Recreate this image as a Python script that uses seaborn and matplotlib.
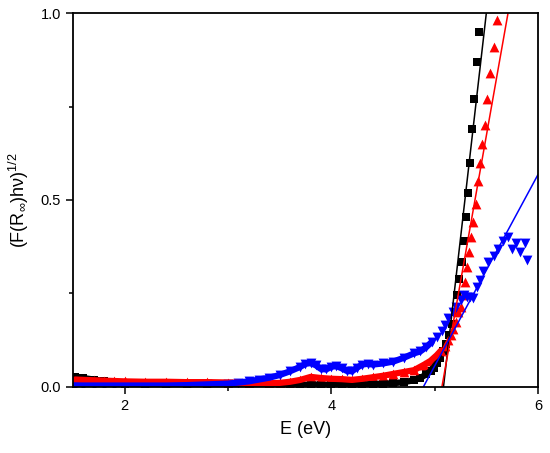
import matplotlib
matplotlib.use("Agg")
import matplotlib.pyplot as plt
import seaborn as sns
import pandas as pd

# Kubelka-Munk plot, three samples (black squares, red up triangles, blue down triangles)
e_black = [1.52, 1.6, 1.7, 1.8, 1.9, 2.0, 2.2, 2.4, 2.6, 2.8, 3.0, 3.2, 3.4, 3.6, 3.7,
           3.8, 3.9, 4.0, 4.1, 4.2, 4.3, 4.4, 4.5, 4.6, 4.7, 4.8, 4.86, 4.92, 4.96, 4.99,
           5.02, 5.05, 5.08, 5.11, 5.14, 5.17, 5.20, 5.22, 5.24, 5.26, 5.28, 5.30, 5.32,
           5.34, 5.36, 5.38, 5.41, 5.43]
y_black = [0.027, 0.024, 0.020, 0.016, 0.012, 0.009, 0.005, 0.003, 0.002, 0.002, 0.002,
           0.002, 0.002, 0.003, 0.005, 0.007, 0.006, 0.006, 0.007, 0.006, 0.007, 0.008,
           0.009, 0.010, 0.013, 0.018, 0.024, 0.034, 0.043, 0.052, 0.064, 0.078, 0.095,
           0.115, 0.14, 0.168, 0.20, 0.245, 0.29, 0.335, 0.39, 0.455, 0.52, 0.60, 0.69,
           0.77, 0.87, 0.95]

e_red = [1.52, 1.6, 1.7, 1.8, 1.9, 2.0, 2.2, 2.4, 2.6, 2.8, 3.0, 3.2, 3.4, 3.5, 3.6, 3.7,
         3.8, 3.9, 4.0, 4.1, 4.2, 4.3, 4.4, 4.5, 4.6, 4.7, 4.8, 4.9, 4.96, 5.02, 5.06,
         5.10, 5.13, 5.16, 5.18, 5.21, 5.23, 5.25, 5.27, 5.29, 5.31, 5.33, 5.35, 5.37,
         5.40, 5.42, 5.44, 5.46, 5.49, 5.51, 5.54, 5.57, 5.60]
y_red = [0.020, 0.019, 0.018, 0.017, 0.016, 0.015, 0.014, 0.014, 0.013, 0.013, 0.012,
         0.011, 0.010, 0.011, 0.014, 0.019, 0.027, 0.024, 0.022, 0.021, 0.019, 0.022,
         0.026, 0.030, 0.035, 0.040, 0.045, 0.060, 0.070, 0.085, 0.097, 0.11, 0.125,
         0.14, 0.155, 0.175, 0.20, 0.215, 0.245, 0.28, 0.32, 0.36, 0.40, 0.44, 0.49,
         0.55, 0.60, 0.65, 0.70, 0.77, 0.84, 0.91, 0.98]

e_blue = [1.52, 1.6, 1.7, 1.8, 1.9, 2.0, 2.2, 2.4, 2.6, 2.8, 3.0, 3.1, 3.2, 3.3, 3.4, 3.5,
          3.6, 3.7, 3.75, 3.8, 3.85, 3.9, 3.95, 4.0, 4.05, 4.1, 4.15, 4.2, 4.25, 4.3,
          4.35, 4.4, 4.5, 4.6, 4.7, 4.8, 4.86, 4.92, 4.97, 5.02, 5.07, 5.10, 5.13, 5.18,
          5.21, 5.25, 5.28, 5.31, 5.34, 5.37, 5.41, 5.44, 5.47, 5.52, 5.57, 5.61, 5.66,
          5.71, 5.75, 5.79, 5.83, 5.87, 5.89]
y_blue = [0.004, 0.004, 0.004, 0.004, 0.004, 0.004, 0.004, 0.004, 0.005, 0.007, 0.009,
          0.012, 0.015, 0.020, 0.025, 0.032, 0.042, 0.054, 0.062, 0.064, 0.058, 0.048,
          0.047, 0.054, 0.056, 0.050, 0.043, 0.042, 0.052, 0.060, 0.062, 0.060, 0.063,
          0.068, 0.078, 0.090, 0.095, 0.107, 0.12, 0.133, 0.15, 0.166, 0.184, 0.20,
          0.214, 0.232, 0.246, 0.24, 0.24, 0.237, 0.268, 0.286, 0.31, 0.335, 0.35, 0.37,
          0.39, 0.40, 0.37, 0.385, 0.36, 0.385, 0.34]

# linear fits (band edge extrapolation), endpoints in data units
fit_black_e = [5.085, 5.50]
fit_black_y = [0.0, 1.0]
fit_red_e = [5.07, 5.71]
fit_red_y = [0.0, 1.0]
fit_blue_e = [4.89, 6.0]
fit_blue_y = [0.0, 0.568]

sns.set_style("ticks", {"axes.edgecolor": "black", "xtick.color": "black",
                        "ytick.color": "black", "text.color": "black",
                        "axes.labelcolor": "black"})
plt.rcParams["font.family"] = ["Liberation Sans", "DejaVu Sans"]
plt.rcParams["mathtext.fontset"] = "custom"
plt.rcParams["mathtext.rm"] = "Liberation Sans"
plt.rcParams["mathtext.it"] = "Liberation Sans"

fig = plt.figure(figsize=(5.5, 4.53), dpi=100)
ax = fig.add_axes([0.1327, 0.1457, 0.8455, 0.8256])

series = [
    (e_black, y_black, "black", "s", 34, 5.05),
    (e_red, y_red, "red", "^", 50, 5.06),
    (e_blue, y_blue, "blue", "v", 50, 5.0),
]
for e, y, col, mk, size, dense_end in series:
    df = pd.DataFrame({"E": e, "y": y})
    dense = df[df["E"] <= dense_end]
    # the low-energy points sit so close they merge into a band
    sns.lineplot(data=dense, x="E", y="y", color=col, lw=4.5, estimator=None, ax=ax)
    sns.scatterplot(data=df, x="E", y="y", color=col, marker=mk, s=size,
                    linewidth=0, ax=ax)

for fe, fy, col in [(fit_black_e, fit_black_y, "black"),
                    (fit_red_e, fit_red_y, "red"),
                    (fit_blue_e, fit_blue_y, "blue")]:
    sns.lineplot(x=fe, y=fy, color=col, lw=1.1, ax=ax)

ax.set_xlim(1.5, 6)
ax.set_ylim(0, 1)
ax.set_xticks([2, 4, 6])
ax.set_xticks([3, 5], minor=True)
ax.set_yticks([0, 0.5, 1.0])
ax.set_yticks([0.25, 0.75], minor=True)
ax.set_yticklabels(["0.0", "0.5", "1.0"])
ax.tick_params(which="major", length=5, width=1.1, labelsize=10.5, direction="out",
               colors="black")
ax.tick_params(which="minor", length=3, width=1.1, direction="out", colors="black")
for sp in ax.spines.values():
    sp.set_linewidth(1.3)
    sp.set_visible(True)
    sp.set_color("black")

ax.set_xlabel("E (eV)", fontsize=13, labelpad=6, color="black")
ax.set_ylabel(r"$\mathregular{(F(R_{\infty})h\nu)^{1/2}}$", fontsize=13, labelpad=7,
              color="black")

fig.savefig("out.png", dpi=100)
